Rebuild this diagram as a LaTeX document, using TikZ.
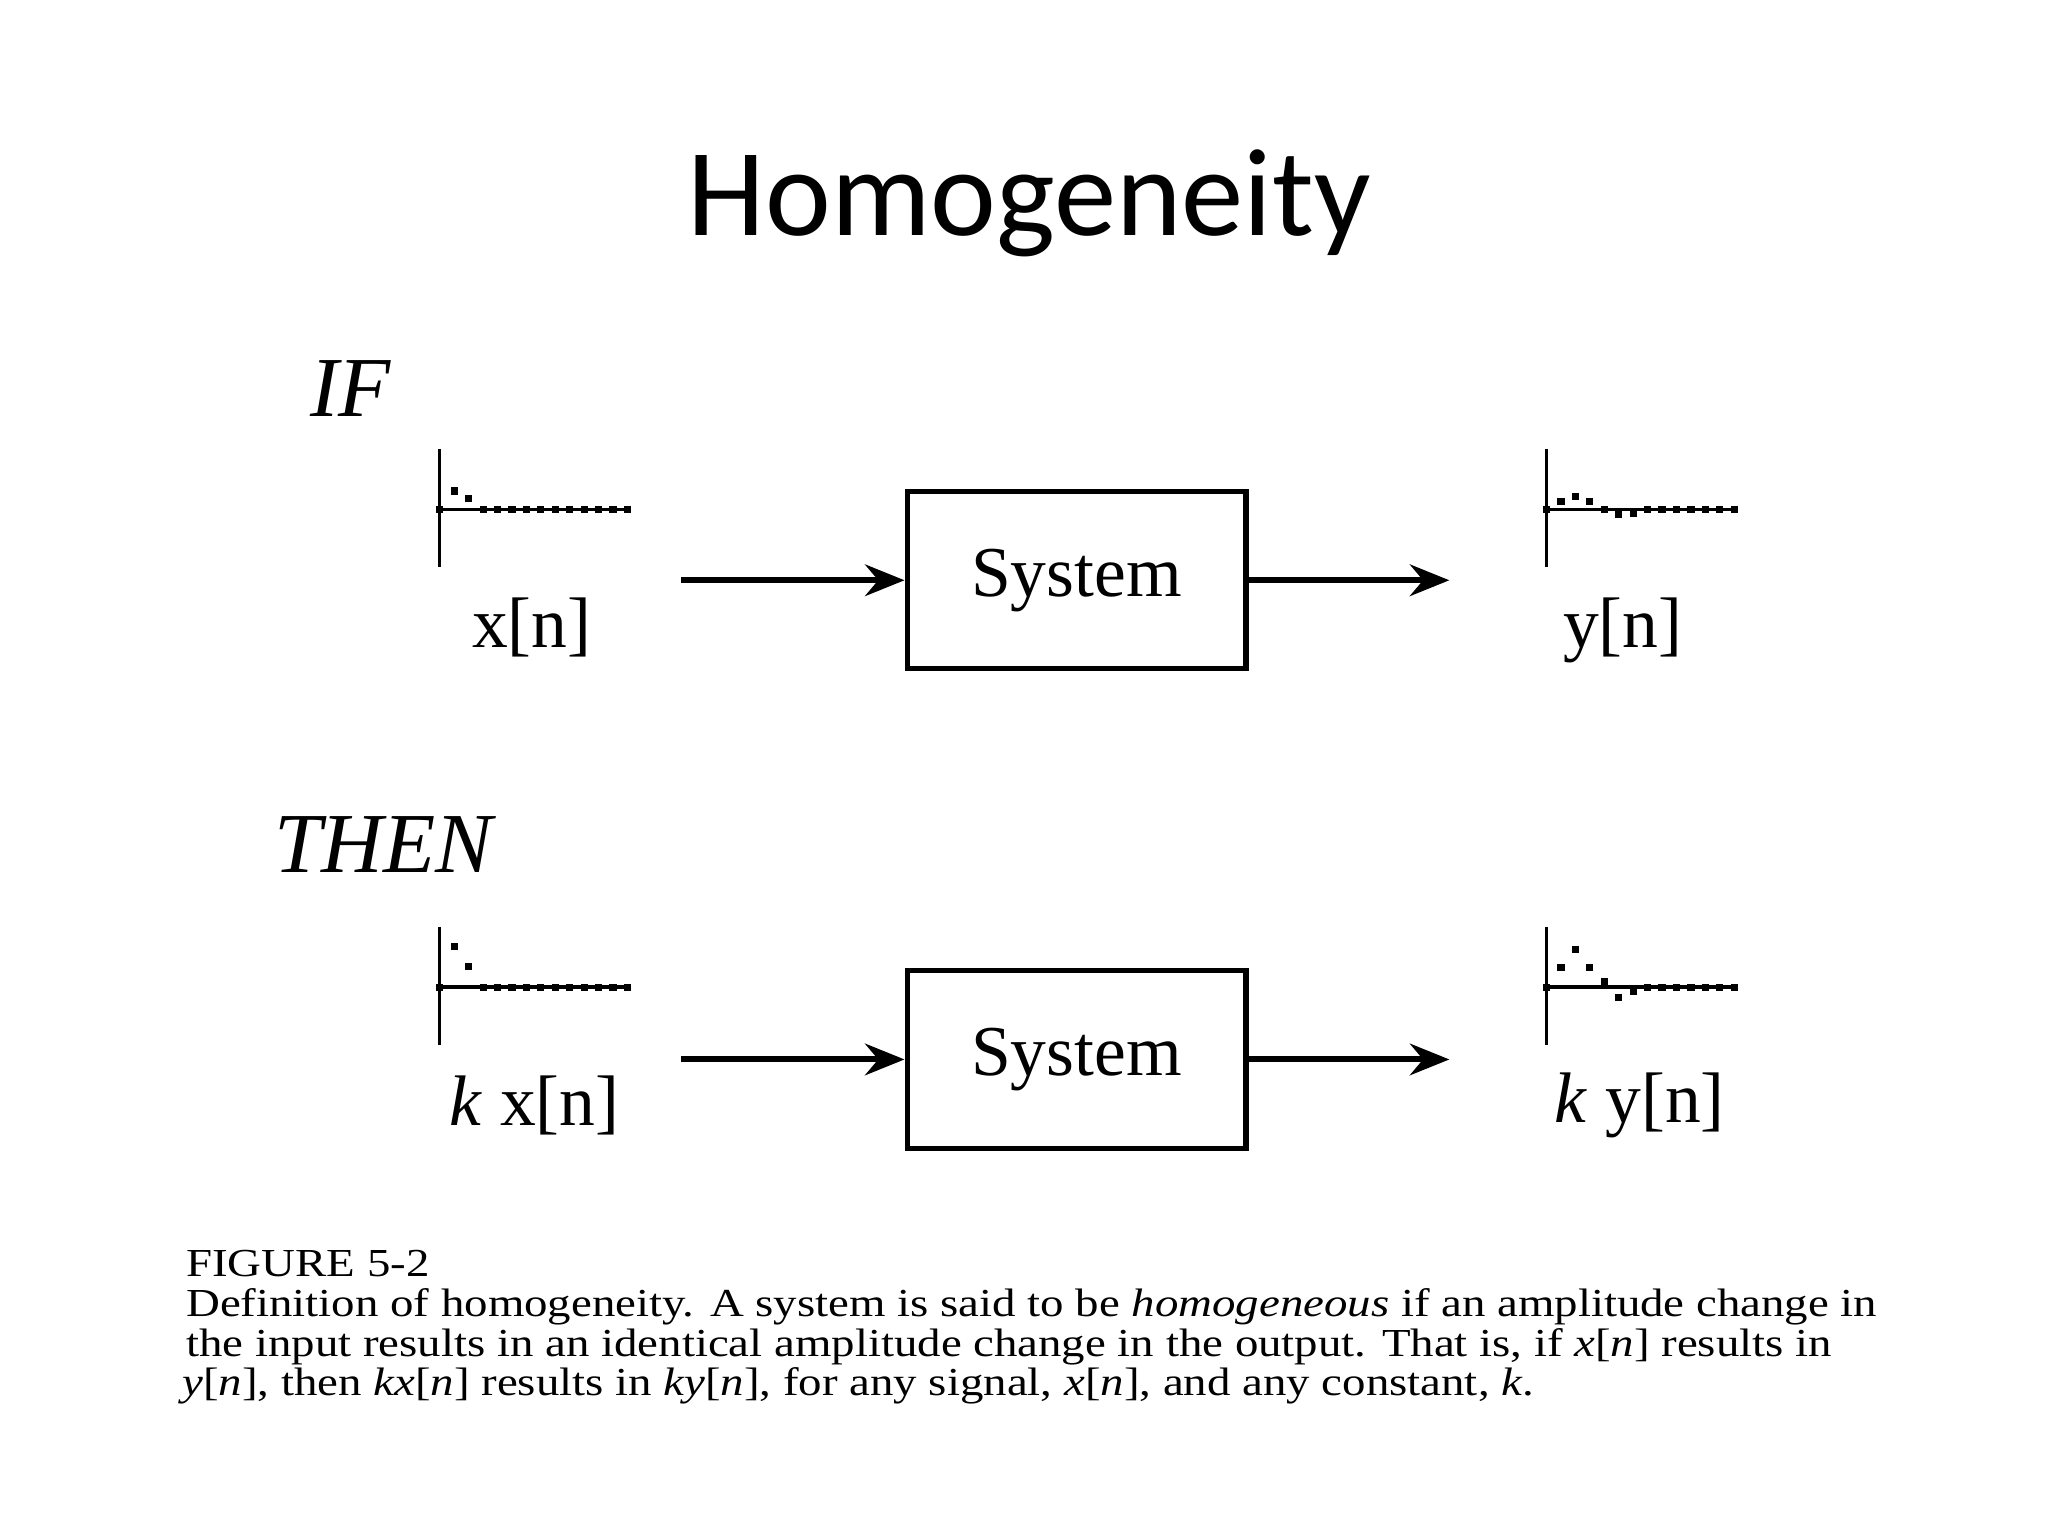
\documentclass[tikz,border=0pt]{standalone}
\usepackage{fontspec}
\setmainfont{Liberation Serif}
\newfontfamily\titlefont{Carlito}
\usetikzlibrary{arrows.meta}
\begin{document}
\begin{tikzpicture}[x=0.01cm,y=-0.01cm,
  sysbox/.style={draw,line width=1.1pt,minimum width=2.58cm,minimum height=1.35cm,inner sep=0pt,font=\fontsize{15.5}{18}\selectfont},
  arr/.style={line width=1.3pt,-{Stealth[length=0.3cm,width=0.24cm,inset=0.1cm]}},
  lbl/.style={font=\fontsize{15.5}{18}\selectfont},
  captxt/.style={anchor=base west,inner sep=0pt,font=\fontsize{8.6}{10}\selectfont,xscale=1.18,transform shape},
  dot/.style={fill=black,minimum size=0.055cm,inner sep=0pt,draw=none,rectangle}]
\useasboundingbox (0,0) rectangle (1560,1170);
\node[font=\titlefont\fontsize{27}{32}\selectfont] (title) at (784,155) {Homogeneity};
\node[font=\itshape\fontsize{18.5}{22}\selectfont] (if) at (267,296) {IF};
\node[font=\itshape\fontsize{18.5}{22}\selectfont] (then) at (292,643) {THEN};
% boxes
\node[sysbox] (s1) at (820,442) {System};
\node[sysbox] (s2) at (820,807) {System};
\coordinate (i1) at (519,442); \coordinate (o1) at (1104,442);
\coordinate (i2) at (519,807); \coordinate (o2) at (1104,807);
\draw[arr] (i1) -- (s1.west);
\draw[arr] (s1.east) -- (o1);
\draw[arr] (i2) -- (s2.west);
\draw[arr] (s2.east) -- (o2);
% labels
\node[lbl] (xl) at (405,478) {x[n]};
\node[lbl] (yl) at (1236,480) {y[n]};
\node[lbl] (kxl) at (407,842) {\textit{k} x[n]};
\node[lbl] (kyl) at (1249,842) {\textit{k} y[n]};
% signals
\newcommand{\mysig}[3]{%
  \draw[line width=0.6pt] (#1,#2-46) -- (#1,#2+44);
  \draw[line width=0.8pt] (#1,#2) -- (#1+145,#2);
  \foreach \v [count=\n from 0] in {#3} {
    \node[dot] at (#1+11*\n,#2-\v) {};
  }}
\mysig{335}{388}{0,14,8,0,0,0,0,0,0,0,0,0,0,0}
\mysig{335}{752}{0,31,16,0,0,0,0,0,0,0,0,0,0,0}
\mysig{1178}{388}{0,6,10,6,0,-4,-3,0,0,0,0,0,0,0}
\mysig{1178}{752}{0,15,29,15,4,-8,-3,0,0,0,0,0,0,0}
% caption
\node[captxt] (c0) at (141,972) {FIGURE 5-2};
\node[captxt] (c1) at (141,1003) {Definition of homogeneity. A system is said to be \textit{homogeneous} if an amplitude change in};
\node[captxt] (c2) at (141,1033) {the input results in an identical amplitude change in the output. That is, if \textit{x}[\textit{n}] results in};
\node[captxt] (c3) at (138,1063) {\textit{y}[\textit{n}], then \textit{kx}[\textit{n}] results in \textit{ky}[\textit{n}], for any signal, \textit{x}[\textit{n}], and any constant, \textit{k}.};
\end{tikzpicture}
\end{document}
